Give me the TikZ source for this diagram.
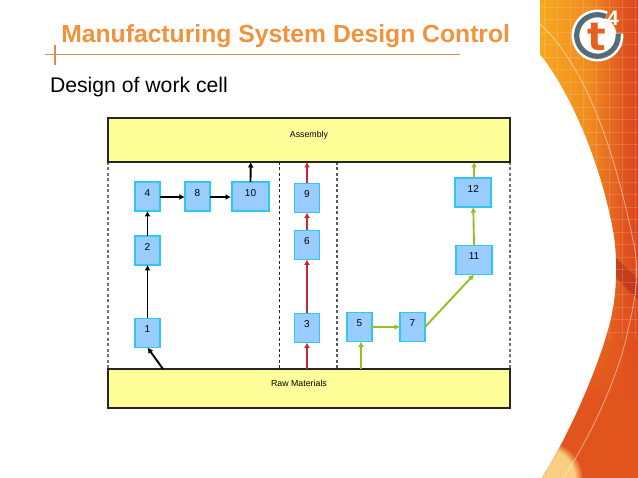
\documentclass[tikz,border=0pt]{standalone}
\usepackage{fontspec}
\setmainfont{Liberation Sans}
\newfontfamily\djv{DejaVu Sans}
\usetikzlibrary{arrows.meta,fadings}
\definecolor{ttl}{HTML}{F0933C}
\definecolor{rule}{HTML}{E38B4B}
\definecolor{yel}{HTML}{FFFF99}
\definecolor{blu}{HTML}{99CCFF}
\definecolor{cyn}{HTML}{2FC8F2}
\definecolor{grn}{HTML}{94C11F}
\definecolor{rd}{HTML}{D4222A}
\definecolor{ringc}{HTML}{566B78}
\definecolor{logot}{HTML}{E8601F}
\definecolor{bandA}{HTML}{F6A81F}
\definecolor{bandB}{HTML}{F08C20}
\definecolor{bandC}{HTML}{E0541E}
\definecolor{bandD}{HTML}{DA461E}
\definecolor{bandE}{HTML}{E2541E}
\definecolor{bandF}{HTML}{F8CF80}
\definecolor{bandG}{HTML}{AA2D1E}
\pgfdeclarehorizontalshading{bandh}{100bp}{
  color(0bp)=(bandA);
  color(25bp)=(bandA);
  color(50bp)=(bandB);
  color(68bp)=(bandC);
  color(75bp)=(bandD);
  color(100bp)=(bandD)}
\tikzset{
  x=1pt,y=-1pt,
  cellbox/.style={draw=cyn,fill=blu,line width=1.9pt,minimum width=25pt,minimum height=29pt,
    inner sep=0pt,outer sep=0pt,text height=6pt,text depth=6.8pt,font=\fontsize{10}{12}\selectfont},
  zone/.style={draw=black!85,fill=yel,line width=1.6pt,inner sep=0pt,outer sep=0pt,
    minimum width=402pt,font=\fontsize{8.8}{10}\selectfont},
  blk/.style={draw=black,line width=1.9pt,-{Latex[length=5.5pt,width=6pt]}},
  redl/.style={draw=rd,line width=1.9pt,-{Latex[length=5.5pt,width=6pt]}},
  grnl/.style={draw=grn,line width=1.9pt,-{Latex[length=5.5pt,width=6pt]}},
  divi/.style={dash pattern=on 3pt off 2.5pt,line width=1.2pt},
  plain/.style={inner sep=0pt,outer sep=0pt,anchor=base west},
}
\begin{document}
\begin{tikzpicture}
\useasboundingbox (0,0) rectangle (638,478);
\fill[white] (0,0) rectangle (638,478);
% decorative band
\begin{scope}
\clip (540,0) -- (540.5,55) .. controls (565,85) and (597,150) .. (612,225) .. controls (619,260) and (617,300) .. (608,330) .. controls (600,360) and (575,425) .. (542,478) -- (638,478) -- (638,0) -- cycle;
\shade[shading=bandh] (540,0) rectangle (638,478);
\fill[bandE,path fading=north] (530,270) rectangle (638,400);
\fill[bandE] (530,399.5) rectangle (638,478);
\fill[bandF,path fading=circle with fuzzy edge 20 percent] (543,480) circle[radius=40];
\fill[bandG,opacity=.55] (615,257) -- (638,279) -- (638,300) -- (615,277) -- cycle;
\foreach \gx in {544,557,...,638} \draw[white,opacity=.14,line width=.8pt] (\gx,0) -- (\gx,340);
\foreach \gy in {7,19.5,...,340} \draw[white,opacity=.14,line width=.8pt] (530,\gy) -- (638,\gy);
\draw[white,opacity=.45,line width=.9pt] (540,24) .. controls (585,65) and (615,150) .. (634,245) .. controls (640,275) and (635,300) .. (628,330) .. controls (620,370) and (595,430) .. (562,480);
\end{scope}
% logo
\coordinate (lc) at (597.5,35.5);
\fill[white] (lc) circle[radius=19];
\draw[white,line width=8pt] ([shift={(66:22pt)}]lc) arc[start angle=66,end angle=365,radius=22pt];
\draw[ringc,line width=5.2pt] ([shift={(66:20.8pt)}]lc) arc[start angle=66,end angle=365,radius=20.8pt];
\node[inner sep=0pt,anchor=base,text=logot,font=\djv\bfseries\fontsize{39}{40}\selectfont] (logoT) at (596.5,51) {t};
\node[inner sep=0pt,anchor=base,text=white,font=\bfseries\fontsize{21}{22}\selectfont] (logoF) at (613,26) {4};
% title
\node[plain,text=ttl,font=\bfseries\fontsize{24.7}{30}\selectfont] (title) at (61.3,43) {Manufacturing System Design Control};
\coordinate (ra) at (45,54.5); \coordinate (rb) at (460,54.5);
\coordinate (rc) at (55,45); \coordinate (rd1) at (55,65);
\draw[rule,line width=1.1pt] (ra) -- (rb);
\draw[rule,line width=1.1pt] (rc) -- (rd1);
\node[plain,text=black,font=\fontsize{21.2}{26}\selectfont] (sub) at (50,92.6) {Design of work cell};
% zones
\coordinate (d1a) at (108,162); \coordinate (d1b) at (108,369);
\coordinate (d2a) at (279.3,162); \coordinate (d2b) at (279.3,369);
\coordinate (d3a) at (337,162); \coordinate (d3b) at (337,369);
\coordinate (d4a) at (510,162); \coordinate (d4b) at (510,369);
\draw[divi,draw=black!55] (d1a) -- (d1b);
\draw[divi,draw=black!85] (d2a) -- (d2b);
\draw[divi,draw=black!65] (d3a) -- (d3b);
\draw[divi,draw=black!55] (d4a) -- (d4b);
\node[zone,minimum height=44pt] (asm) at (309,140) {};
\node[font=\fontsize{8.8}{10}\selectfont,inner sep=0pt] (asmt) at (309,135) {Assembly};
\node[zone,minimum height=39pt] (raw) at (309,388.5) {};
\node[font=\fontsize{8.8}{10}\selectfont,inner sep=0pt] (rawt) at (299,383.5) {Raw Materials};
% cells
\node[cellbox] (n4) at (147.5,196.5) {4};
\node[cellbox] (n8) at (197.3,196.5) {8};
\node[cellbox,minimum width=37pt] (n10) at (250.5,196.5) {10};
\node[cellbox] (n9) at (307,198) {9};
\node[cellbox] (n6) at (307,245) {6};
\node[cellbox] (n2) at (147.5,250.5) {2};
\node[cellbox] (n1) at (147.5,333) {1};
\node[cellbox] (n3) at (307,328) {3};
\node[cellbox] (n5) at (359.5,327) {5};
\node[cellbox] (n7) at (412.5,327) {7};
\node[cellbox,minimum width=36pt] (n11) at (474,260) {11};
\node[cellbox,minimum width=36pt] (n12) at (473.3,192.5) {12};
% connector ends on the zones
\coordinate (r1) at (163,369);
\coordinate (r3) at (307,369);
\coordinate (r5) at (361,369);
\coordinate (a10) at (250.7,162);
\coordinate (a9) at (307,162);
\coordinate (a12) at (474,162);
% black route
\draw[blk] (r1) -- (n1.south);
\draw[blk] (n1) -- (n2);
\draw[blk] (n2) -- (n4);
\draw[blk] ([yshift=-.5pt]n4.east) -- ([yshift=-.5pt]n8.west);
\draw[blk] ([yshift=-.5pt]n8.east) -- ([yshift=-.5pt,xshift=-1pt]n10.west);
\draw[blk] (n10.north) -- (a10);
% red route
\draw[redl] (r3) -- (n3.south);
\draw[redl] (n3) -- (n6);
\draw[redl] (n6) -- (n9);
\draw[redl] (n9) -- (a9);
% green route
\draw[grnl] (r5) -- ([xshift=1.5pt]n5.south);
\draw[grnl] (n5) -- (n7);
\draw[grnl] (n7.east) -- (n11.south);
\draw[grnl] (n11.north) -- (n12.south);
\draw[grnl] ([xshift=.7pt]n12.north) -- (a12);
\end{tikzpicture}
\end{document}
